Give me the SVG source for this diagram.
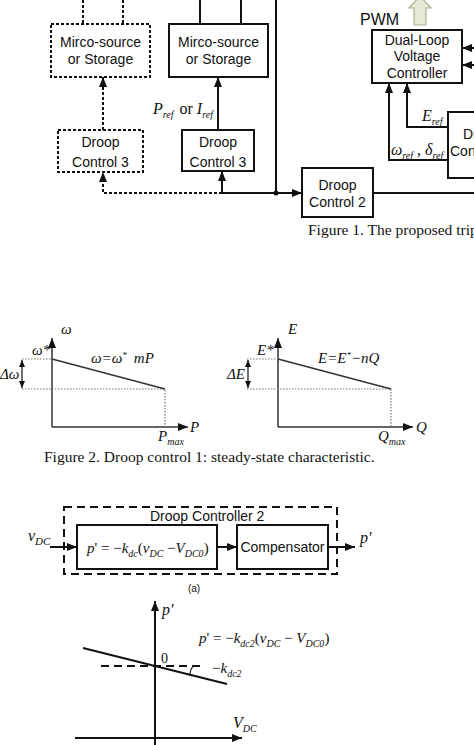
<svg xmlns="http://www.w3.org/2000/svg" width="474" height="745" viewBox="0 0 474 745">
<style>
.sans{font-family:"Liberation Sans",Arial,sans-serif;font-size:14px;fill:#111}
.serif{font-family:"Liberation Serif","Times New Roman",serif;fill:#111}
.it{font-style:italic}
.box{fill:#fff;stroke:#111;stroke-width:2}
.dot{fill:#fff;stroke:#111;stroke-width:2;stroke-dasharray:3 2}
.ln{fill:none;stroke:#111;stroke-width:2}
.dln{fill:none;stroke:#111;stroke-width:2;stroke-dasharray:3 2}
.g{fill:none;stroke:#333;stroke-width:1.5}
.gd{fill:none;stroke:#777;stroke-width:1.2;stroke-dasharray:1.5 1.5}
.dash{fill:none;stroke:#111;stroke-width:2;stroke-dasharray:8 5}
</style>
<defs>
<marker id="ah" viewBox="0 0 10 8" refX="10" refY="4" markerWidth="10" markerHeight="8" orient="auto" markerUnits="userSpaceOnUse"><path d="M0,0 L10,4 L0,8 z" fill="#111"/></marker>
<marker id="ahs" viewBox="0 0 7 6" refX="7" refY="3" markerWidth="7" markerHeight="6" orient="auto-start-reverse" markerUnits="userSpaceOnUse"><path d="M0,0 L7,3 L0,6 z" fill="#111"/></marker>
</defs>

<!-- Figure 1 connectors -->
<g id="connectors">
  <path class="dln" d="M83,0 V24 M123,0 V24"/>
  <path class="ln" d="M200,0 V24 M241,0 V24"/>
  <path class="ln" d="M276,0 V193"/>
  <circle cx="276" cy="193" r="2.5" fill="#111"/>
  <path class="dln" d="M103,130 V77" marker-end="url(#ah)"/>
  <path class="dln" d="M222,193 H103 V172" marker-end="url(#ah)"/>
  <path class="ln" d="M218,130 V77" marker-end="url(#ah)"/>
  <path class="ln" d="M222,193 V171" marker-end="url(#ah)"/>
  <path class="ln" d="M222,193 H302" marker-end="url(#ah)"/>
  <path class="ln" d="M373,193 H474"/>
  <path class="ln" d="M474,48 H462" marker-end="url(#ah)"/>
  <path class="ln" d="M474,65 H462" marker-end="url(#ah)"/>
  <path class="ln" d="M448,127 H407 V83" marker-end="url(#ah)"/>
  <path class="ln" d="M448,160 H389 V83" marker-end="url(#ah)"/>
</g>

<g id="ms-dotted">
  <rect class="dot" x="51" y="24" width="99" height="53"/>
  <text class="sans" x="100.5" y="47" text-anchor="middle">Mirco-source</text>
  <text class="sans" x="100.5" y="64" text-anchor="middle">or Storage</text>
</g>
<g id="ms-solid">
  <rect class="box" x="169" y="24" width="99" height="53"/>
  <text class="sans" x="218.5" y="47" text-anchor="middle">Mirco-source</text>
  <text class="sans" x="218.5" y="64" text-anchor="middle">or Storage</text>
</g>
<g id="dc3-dotted">
  <rect class="dot" x="58" y="130" width="85" height="42"/>
  <text class="sans" x="100.5" y="147" text-anchor="middle">Droop</text>
  <text class="sans" x="100.5" y="167" text-anchor="middle">Control 3</text>
</g>
<g id="dc3-solid">
  <rect class="box" x="182" y="130" width="72" height="41"/>
  <text class="sans" x="218" y="147" text-anchor="middle">Droop</text>
  <text class="sans" x="218" y="167" text-anchor="middle">Control 3</text>
</g>
<g id="dc2">
  <rect class="box" x="302" y="168" width="71" height="49"/>
  <text class="sans" x="337.5" y="190" text-anchor="middle">Droop</text>
  <text class="sans" x="337.5" y="207" text-anchor="middle">Control 2</text>
</g>
<g id="dlvc">
  <rect class="box" x="372" y="30" width="90" height="53"/>
  <text class="sans" x="417" y="45" text-anchor="middle">Dual-Loop</text>
  <text class="sans" x="417" y="61" text-anchor="middle">Voltage</text>
  <text class="sans" x="417" y="78" text-anchor="middle">Controller</text>
</g>
<g id="dc1">
  <rect class="box" x="448" y="112" width="40" height="66"/>
  <text class="sans" x="463" y="139">Droop</text>
  <text class="sans" x="450" y="156">Control 1</text>
</g>
<g id="pwm">
  <polygon points="414,25 414,8 409,8 420,-4 431,8 426,8 426,25" fill="#e3e9d3" stroke="#a9b296" stroke-width="1.2"/>
  <text class="sans" x="360" y="25" style="font-size:16px">PWM</text>
</g>

<text class="serif" x="153" y="114" style="font-size:16px"><tspan class="it">P</tspan><tspan class="it" style="font-size:10px" dy="4">ref</tspan><tspan dy="-4" dx="6">or </tspan><tspan class="it">I</tspan><tspan class="it" style="font-size:10px" dy="4">ref</tspan></text>
<text class="serif" x="422" y="121" style="font-size:16px"><tspan class="it">E</tspan><tspan class="it" style="font-size:10px" dy="4">ref</tspan></text>
<text class="serif" x="391" y="155" style="font-size:16px"><tspan class="it">ω</tspan><tspan class="it" style="font-size:10px" dy="4">ref</tspan><tspan dy="-4"> , </tspan><tspan class="it">δ</tspan><tspan class="it" style="font-size:10px" dy="4">ref</tspan></text>

<text class="serif" x="308" y="235" style="font-size:15.5px">Figure 1. The proposed trip</text>

<!-- Figure 2 left -->
<g id="fig2-left">
  <path class="g" d="M52,427 V338" marker-end="url(#ah)"/>
  <path class="g" d="M52,427 H188" marker-end="url(#ah)"/>
  <path class="gd" d="M22,359 H52 M22,389 H165 V427"/>
  <path class="g" d="M52,359 L165,389"/>
  <path fill="none" stroke="#111" stroke-width="1.2" d="M22,360 V388" marker-start="url(#ahs)" marker-end="url(#ahs)"/>
  <text class="serif it" x="61" y="334" style="font-size:15px">ω</text>
  <text class="serif it" x="32" y="355" style="font-size:15px">ω*</text>
  <text class="serif it" x="91" y="363" style="font-size:15px">ω=ω<tspan dy="-5" style="font-size:9px">*</tspan><tspan dy="5" dx="7">mP</tspan></text>
  <text class="serif it" x="0" y="379" style="font-size:15px">Δω</text>
  <text class="serif it" x="190" y="432" style="font-size:15px">P</text>
  <text class="serif it" x="158" y="441" style="font-size:15px">P<tspan dy="4" style="font-size:10px">max</tspan></text>
</g>
<!-- Figure 2 right -->
<g id="fig2-right">
  <path class="g" d="M278,427 V338" marker-end="url(#ah)"/>
  <path class="g" d="M278,427 H413" marker-end="url(#ah)"/>
  <path class="gd" d="M247,359 H278 M247,389 H391 V427"/>
  <path class="g" d="M278,359 L391,389"/>
  <path fill="none" stroke="#111" stroke-width="1.2" d="M248,360 V388" marker-start="url(#ahs)" marker-end="url(#ahs)"/>
  <text class="serif it" x="288" y="334" style="font-size:15px">E</text>
  <text class="serif it" x="257" y="355" style="font-size:15px">E*</text>
  <text class="serif it" x="318" y="363" style="font-size:15px">E=E<tspan dy="-5" style="font-size:9px">*</tspan><tspan dy="5">−nQ</tspan></text>
  <text class="serif it" x="227" y="379" style="font-size:15px">ΔE</text>
  <text class="serif it" x="416" y="432" style="font-size:15px">Q</text>
  <text class="serif it" x="378" y="441" style="font-size:15px">Q<tspan dy="4" style="font-size:10px">max</tspan></text>
</g>
<text class="serif" x="44" y="462" style="font-size:15.5px">Figure 2. Droop control 1: steady-state characteristic.</text>

<!-- Droop controller 2 -->
<g id="dc2-block">
  <rect class="dash" x="64" y="507" width="273" height="67"/>
  <text class="sans" x="150" y="521">Droop Controller 2</text>
</g>
<g id="dc2-connectors">
  <path class="ln" d="M50,547 H77" marker-end="url(#ah)"/>
  <path class="ln" d="M217,547 H237" marker-end="url(#ah)"/>
  <path class="ln" d="M328,547 H355" marker-end="url(#ah)"/>
</g>
<g id="droop-eq">
  <rect class="box" x="77" y="525" width="140" height="44"/>
  <text class="serif" x="87" y="553" style="font-size:15px"><tspan class="it">p</tspan>' = −<tspan class="it">k</tspan><tspan class="it" dy="4" style="font-size:10px">dc</tspan><tspan dy="-4">(</tspan><tspan class="it">v</tspan><tspan class="it" dy="4" style="font-size:10px">DC</tspan><tspan dy="-4"> −</tspan><tspan class="it">V</tspan><tspan class="it" dy="4" style="font-size:10px">DC0</tspan><tspan dy="-4">)</tspan></text>
</g>
<g id="compensator">
  <rect class="box" x="237" y="525" width="91" height="44"/>
  <text class="sans" x="282.5" y="552" text-anchor="middle">Compensator</text>
</g>
<text class="serif it" x="28" y="541" style="font-size:16px">v<tspan dy="4" style="font-size:11px">DC</tspan></text>
<text class="serif it" x="360" y="543" style="font-size:16px">p'</text>
<text class="sans" x="194" y="592" text-anchor="middle" style="font-size:10px">(a)</text>

<!-- bottom graph -->
<g id="graph-b">
  <path class="ln" d="M155,745 V601" marker-end="url(#ah)"/>
  <path class="ln" d="M75,738 H242" marker-end="url(#ah)"/>
  <path class="dash" d="M101,666 H202"/>
  <path class="ln" d="M83,648 L227,684"/>
  <path fill="none" stroke="#111" stroke-width="1.2" d="M194,666 Q190,668 190,676"/>
  <text class="serif it" x="162" y="615" style="font-size:16px">p'</text>
  <text class="serif" x="161" y="663" style="font-size:14px">0</text>
  <text class="serif" x="212" y="673" style="font-size:15px">−<tspan class="it">k</tspan><tspan class="it" dy="4" style="font-size:10px">dc2</tspan></text>
  <text class="serif" x="199" y="643" style="font-size:15px"><tspan class="it">p</tspan>' = −<tspan class="it">k</tspan><tspan class="it" dy="4" style="font-size:10px">dc2</tspan><tspan dy="-4">(</tspan><tspan class="it">v</tspan><tspan class="it" dy="4" style="font-size:10px">DC</tspan><tspan dy="-4"> − </tspan><tspan class="it">V</tspan><tspan class="it" dy="4" style="font-size:10px">DC0</tspan><tspan dy="-4">)</tspan></text>
  <text class="serif it" x="233" y="728" style="font-size:16px">V<tspan dy="4" style="font-size:10px">DC</tspan></text>
  <text class="serif it" x="150" y="755" style="font-size:15px">V</text>
</g>
</svg>
